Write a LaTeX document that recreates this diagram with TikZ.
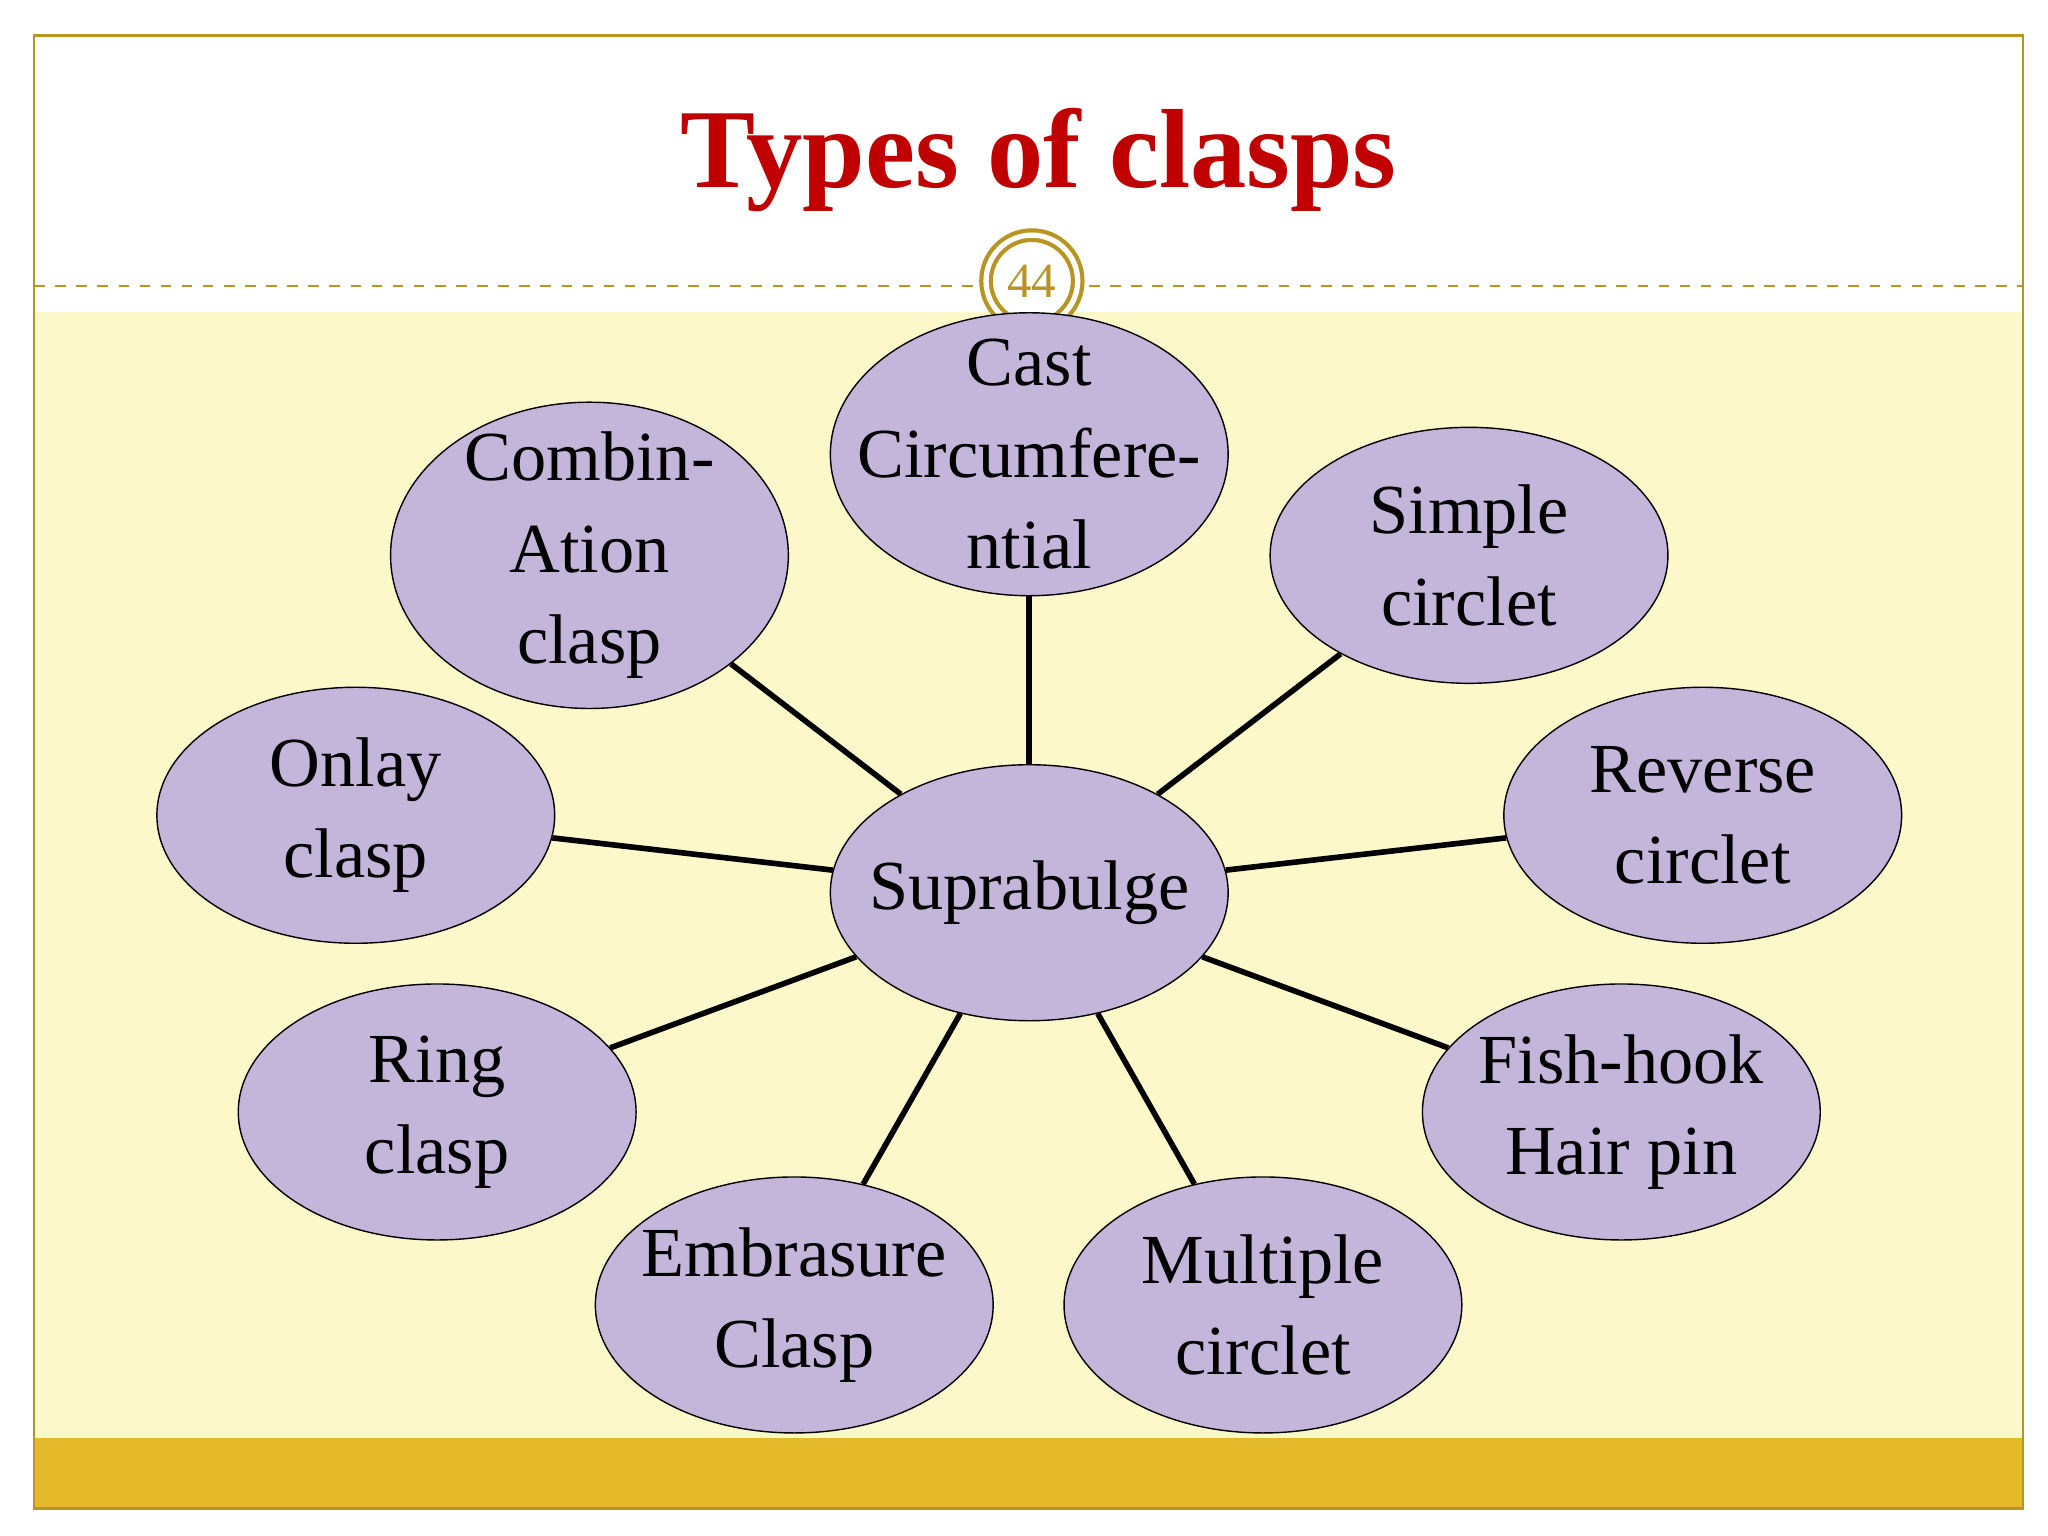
\documentclass[tikz,border=0pt]{standalone}
\usepackage{fontspec}
\setmainfont{Liberation Serif}
\usetikzlibrary{shapes.geometric}
\definecolor{gold}{RGB}{228,186,42}
\definecolor{paleyellow}{RGB}{252,248,202}
\definecolor{lilac}{RGB}{196,182,218}
\definecolor{titlered}{RGB}{192,0,0}
\begin{document}
\begin{tikzpicture}[x=0.013128cm,y=-0.013128cm,
  clasp/.style={ellipse,draw=black,fill=lilac,minimum width=303*0.013128cm,minimum height=195*0.013128cm,align=center,font=\fontsize{20}{26}\selectfont,inner xsep=-0.5cm,inner ysep=-0.15cm},
  spoke/.style={line width=1.6pt}]
\useasboundingbox (0,0) rectangle (1560,1170);
\fill[white] (0,0) rectangle (1560,1170);
% background
\fill[paleyellow] (26,238) rectangle (1541,1095);
\fill[gold] (26,1095) rectangle (1541,1149);
\draw[gold!80!black,line width=0.6pt] (26,27) rectangle (1541,1149);
\draw[gold!80!black,dashed,line width=0.5pt] (26,218) -- (1541,218);
\node[circle,draw=gold!80!black,double=white,double distance=1.5pt,line width=1.2pt,fill=white,minimum size=68*0.013128cm,text=gold!80!black,font=\fontsize{14}{16}\selectfont] (page) at (786,214) {44};
\node[font=\bfseries\fontsize{32}{36}\selectfont,text=titlered] (title) at (791,122) {Types of clasps};

% Nodes
\node[clasp] (supra) at (784,680) {Suprabulge};
\node[clasp] (cast)  at (784,346) {Cast\\Circumfere-\\ntial};
\node[clasp] (comb)  at (449,423) {Combin-\\Ation\\clasp};
\node[clasp] (simple) at (1119,423) {Simple\\circlet};
\node[clasp] (onlay) at (271,621) {Onlay\\clasp};
\node[clasp] (rev)   at (1297,621) {Reverse\\circlet};
\node[clasp] (ring)  at (333,847) {Ring\\clasp};
\node[clasp] (fish)  at (1235,847) {Fish-hook\\Hair pin};
\node[clasp] (emb)   at (605,994) {Embrasure\\Clasp};
\node[clasp] (multi) at (962,994) {Multiple\\circlet};

% Spokes
\foreach \n in {cast,comb,simple,onlay,rev,ring,fish,emb,multi}
  \draw[spoke] (supra) -- (\n);
\end{tikzpicture}
\end{document}
